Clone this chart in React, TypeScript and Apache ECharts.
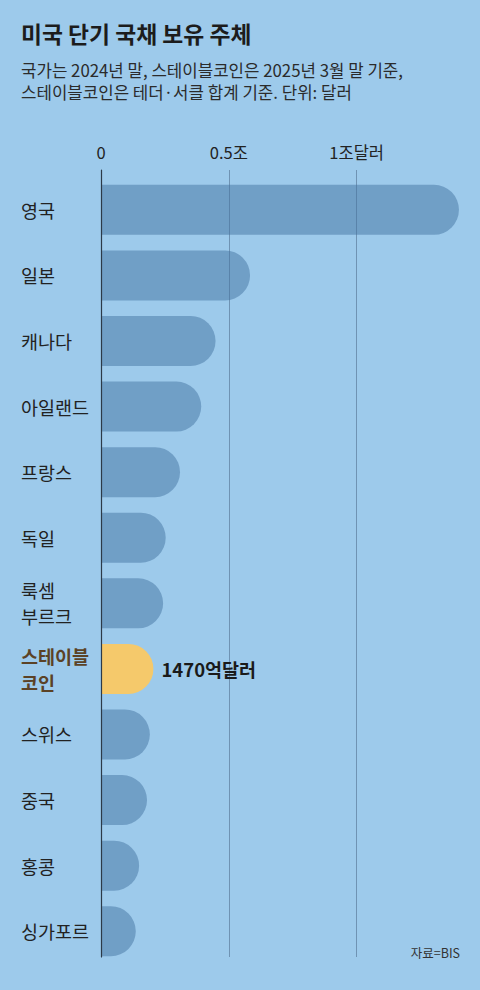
import React, { useEffect, useRef } from "react";
import * as echarts from "echarts";

const categories = [
  "영국",
  "일본",
  "캐나다",
  "아일랜드",
  "프랑스",
  "독일",
  "룩셈\n부르크",
  "스테이블\n코인",
  "스위스",
  "중국",
  "홍콩",
  "싱가포르",
];
// 조 달러 (trillion USD)
const values = [1.4, 0.583, 0.448, 0.392, 0.309, 0.253, 0.243, 0.205, 0.191, 0.18, 0.149, 0.136];
const highlightIndex = 7;
const highlightLabel = "1470억달러";
const tickLabels: Record<string, string> = { "0": "0", "0.5": "0.5조", "1": "1조달러" };

const titleText = "미국 단기 국채 보유 주체";
const subtitleText = "국가는 2024년 말, 스테이블코인은 2025년 3월 말 기준,\n스테이블코인은 테더·서클 합계 기준. 단위: 달러";
const sourceText = "자료=BIS";

const FONT = '"Noto Sans CJK KR", "Noto Sans", sans-serif';

export default function App() {
  const ref = useRef<HTMLDivElement>(null);
  useEffect(() => {
    if (!ref.current) return;
    const chart = echarts.init(ref.current, undefined, { renderer: "svg" });
    chart.setOption({
      animation: false,
      backgroundColor: "#9dcaeb",
      textStyle: { fontFamily: FONT },
      title: [
        {
          text: titleText,
          left: 21,
          top: 21,
          padding: 0,
          textStyle: { fontFamily: FONT, fontSize: 22.8, fontWeight: "bold", color: "#1c1c1c", lineHeight: 24 },
        },
        {
          text: subtitleText,
          left: 21,
          top: 59,
          padding: 0,
          textStyle: { fontFamily: FONT, fontSize: 16.8, fontWeight: "normal", color: "#2b2b2b", lineHeight: 22 },
        },
        {
          text: sourceText,
          right: 20,
          top: 945,
          padding: 0,
          textStyle: { fontFamily: FONT, fontSize: 12.5, fontWeight: "normal", color: "#333", lineHeight: 14 },
        },
      ],
      grid: [
        { left: 101, right: -4.5, top: 177, bottom: 26, containLabel: false, outerBoundsMode: "none" },
        { left: 101, right: -4.5, top: 170, bottom: 33, containLabel: false, outerBoundsMode: "none" },
      ],
      xAxis: [
        {
          type: "value",
          gridIndex: 0,
          min: 0,
          max: 1.5,
          interval: 0.5,
          show: false,
        },
        {
          type: "value",
          gridIndex: 1,
          position: "top",
          min: 0,
          max: 1.5,
          interval: 0.5,
          axisLine: { show: false },
          axisTick: { show: false },
          axisLabel: {
            margin: 10,
            fontFamily: FONT,
            fontSize: 16.5,
            color: "#222",
            formatter: (v: number) => tickLabels[String(v)] ?? "",
          },
          splitLine: { show: true, lineStyle: { color: "#6f93b3", width: 1 } },
        },
      ],
      yAxis: [
        {
          type: "category",
          gridIndex: 0,
          inverse: true,
          data: categories.map((c, i) =>
            i === highlightIndex
              ? {
                  value: c,
                  textStyle: {
                    color: "#5b4226",
                    fontWeight: "bold",
                    align: "left",
                    fontSize: 18.5,
                    lineHeight: 26,
                  },
                }
              : c
          ),
          axisLine: { show: false },
          axisTick: { show: false },
          splitLine: { show: false },
          axisLabel: {
            align: "left",
            margin: 80,
            fontFamily: FONT,
            fontSize: 18.5,
            lineHeight: 26,
            color: "#222",
          },
        },
        {
          type: "value",
          gridIndex: 1,
          min: 0,
          max: 1,
          z: 10,
          axisLine: { show: true, lineStyle: { color: "#2c3a48", width: 1.2 } },
          axisTick: { show: false },
          axisLabel: { show: false },
          splitLine: { show: false },
        },
      ],
      series: [
        {
          type: "bar",
          xAxisIndex: 0,
          yAxisIndex: 0,
          barWidth: 50,
          data: values.map((v, i) =>
            i === highlightIndex
              ? {
                  value: v,
                  itemStyle: { color: "#f5c96b", opacity: 1 },
                  label: {
                    show: true,
                    position: "right",
                    distance: 8,
                    formatter: highlightLabel,
                    fontFamily: FONT,
                    fontSize: 18.5,
                    fontWeight: "bold",
                    color: "#1a1a1a",
                  },
                }
              : v
          ),
          itemStyle: { color: "rgba(67,116,161,0.5)", borderRadius: [0, 25, 25, 0] },
        },
      ],
    });
    return () => chart.dispose();
  }, []);
  return (
    <div
      ref={ref}
      style={{ position: "absolute", left: 0, top: 0, width: 480, height: 990, overflow: "hidden" }}
    />
  );
}
